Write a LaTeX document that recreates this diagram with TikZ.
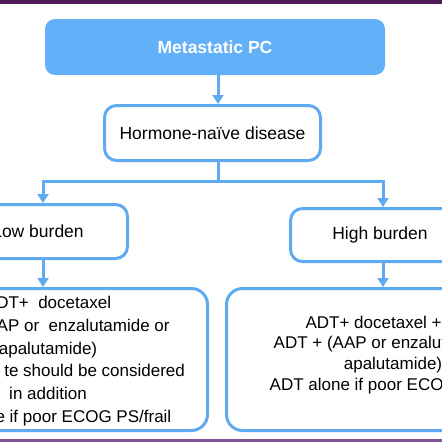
\documentclass[tikz,border=0pt]{standalone}
\usepackage{fontspec}
\setmainfont{Liberation Sans}
\usetikzlibrary{arrows.meta}
\definecolor{boxblue}{RGB}{98,176,248}
\definecolor{lineblue}{RGB}{95,170,240}
\definecolor{ptop}{RGB}{78,26,88}
\definecolor{pbot}{RGB}{130,84,150}
\tikzset{
  fillbox/.style={fill=boxblue, draw=none, rounded corners=10pt, text=white,
    font=\fontsize{17.5}{20}\selectfont\bfseries, inner sep=0pt},
  outbox/.style={draw=lineblue, line width=3pt, rounded corners=12pt, fill=white,
    font=\fontsize{17.5}{20}\selectfont, inner sep=0pt},
  txtbox/.style={draw=lineblue, line width=3pt, rounded corners=16pt, fill=white, inner sep=0pt},
  bodytext/.style={inner sep=0pt, align=center},
  conn/.style={draw=lineblue, line width=3pt},
  arr/.style={conn, -{Triangle[width=11pt,length=9pt]}},
}
\begin{document}
\begin{tikzpicture}[x=1pt,y=-1pt]
\useasboundingbox (0,0) rectangle (442,442);
\clip (0,0) rectangle (442,442);
\fill[ptop] (0,0) rectangle (442,3.5);
\fill[pbot] (0,438.5) rectangle (442,442);
\coordinate (sp) at (218,0);
\coordinate (la) at (43,0);
\coordinate (ra) at (383,0);
\coordinate (bus) at (0,181);
\node[fillbox, minimum width=340pt, minimum height=56pt] (mpc) at (215,47) {Metastatic PC};
\node[outbox, minimum width=216pt, minimum height=55pt] (hnd) at (212.5,133) {Hormone-naïve disease};
\node[outbox, minimum width=179pt, minimum height=54pt] (low) at (38,231.5) {Low burden};
\node[outbox, minimum width=179pt, minimum height=53pt] (high) at (380,235) {High burden};
\node[txtbox, minimum width=323pt, minimum height=142pt] (lowt) at (46,359.5) {};
\node[txtbox, minimum width=333pt, minimum height=142pt] (hight) at (393,359.5) {};
\node[bodytext, font=\fontsize{17}{22.8}\selectfont] (lowtxt) at (48,361) {ADT+~ docetaxel\\ADT + (AAP or~ enzalutamide or\\apalutamide)\\\hphantom{RT to prosta}te should be considered\\in addition\\ADT alone if poor ECOG PS/frail};
\node[bodytext, font=\fontsize{17}{20.8}\selectfont] (hightxt) at (393,355) {ADT+ docetaxel +\hphantom{ AAP}\\ADT + (AAP or enzalutamide or\\apalutamide)\\ADT alone if poor ECOG PS/frail};
\draw[arr] (mpc.south -| sp) -- (hnd.north -| sp);
\draw[conn] (hnd.south -| sp) -- (sp |- bus);
\draw[arr] (sp |- bus) -| (low.north -| la);
\draw[arr] (sp |- bus) -| (high.north -| ra);
\draw[arr] (low.south -| la) -- (lowt.north -| la);
\draw[arr] (high.south -| ra) -- (hight.north -| ra);
\end{tikzpicture}
\end{document}
